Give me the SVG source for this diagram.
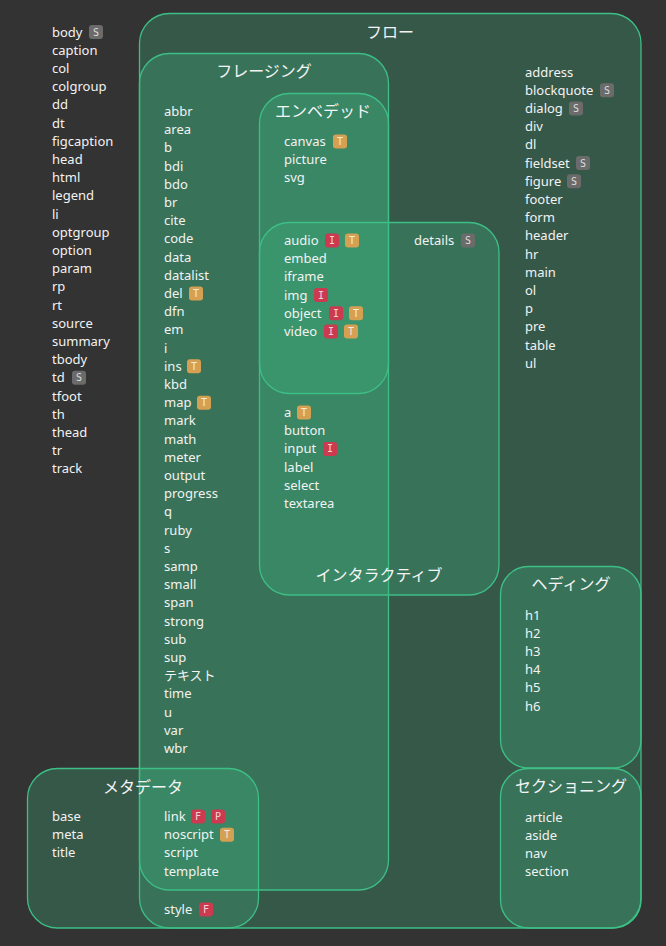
<svg xmlns="http://www.w3.org/2000/svg" width="666" height="946" viewBox="0 0 666 946">
<style>
.bg{fill:#333333}
.box{fill:rgb(61,190,134);fill-opacity:0.27;stroke:#3dbf86;stroke-width:1.3}
.t{font-family:"Noto Sans","Noto Sans CJK JP",sans-serif;font-size:13px;fill:#f2f2f2}
.h{font-family:"Noto Sans CJK JP","Noto Sans",sans-serif;font-size:16px;fill:#f4f4f4;text-anchor:middle}
.bS{fill:#6b6b6b}
.bT{fill:#d6a052}
.bI{fill:#cc3a50}
.bl{font-family:"DejaVu Sans Mono",monospace;font-size:10px;fill:#ffffff;fill-opacity:0.78;text-anchor:middle}
</style>
<rect class="bg" x="0" y="0" width="666" height="946"/>
<g id="outside">
<text class="t" x="52" y="36.5">body</text>
<text class="t" x="52" y="54.7">caption</text>
<text class="t" x="52" y="72.9">col</text>
<text class="t" x="52" y="91.1">colgroup</text>
<text class="t" x="52" y="109.3">dd</text>
<text class="t" x="52" y="127.5">dt</text>
<text class="t" x="52" y="145.7">figcaption</text>
<text class="t" x="52" y="163.9">head</text>
<text class="t" x="52" y="182.1">html</text>
<text class="t" x="52" y="200.3">legend</text>
<text class="t" x="52" y="218.5">li</text>
<text class="t" x="52" y="236.7">optgroup</text>
<text class="t" x="52" y="254.9">option</text>
<text class="t" x="52" y="273.1">param</text>
<text class="t" x="52" y="291.3">rp</text>
<text class="t" x="52" y="309.5">rt</text>
<text class="t" x="52" y="327.7">source</text>
<text class="t" x="52" y="345.9">summary</text>
<text class="t" x="52" y="364.1">tbody</text>
<text class="t" x="52" y="382.3">td</text>
<text class="t" x="52" y="400.5">tfoot</text>
<text class="t" x="52" y="418.7">th</text>
<text class="t" x="52" y="436.9">thead</text>
<text class="t" x="52" y="455.1">tr</text>
<text class="t" x="52" y="473.3">track</text>
<rect class="bS" x="89" y="25" width="14" height="14" rx="3"/><text class="bl" x="96" y="35.5">S</text>
<rect class="bS" x="72" y="370.8" width="14" height="14" rx="3"/><text class="bl" x="79" y="381.3">S</text>
</g>
<g id="flow">
<rect class="box" x="139.5" y="13.5" width="501.5" height="914.5" rx="30"/>
<text class="h" x="390" y="38">フロー</text>
<text class="t" x="525" y="76.5">address</text>
<text class="t" x="525" y="94.7">blockquote</text>
<text class="t" x="525" y="112.9">dialog</text>
<text class="t" x="525" y="131.1">div</text>
<text class="t" x="525" y="149.3">dl</text>
<text class="t" x="525" y="167.5">fieldset</text>
<text class="t" x="525" y="185.7">figure</text>
<text class="t" x="525" y="203.9">footer</text>
<text class="t" x="525" y="222.1">form</text>
<text class="t" x="525" y="240.3">header</text>
<text class="t" x="525" y="258.5">hr</text>
<text class="t" x="525" y="276.7">main</text>
<text class="t" x="525" y="294.9">ol</text>
<text class="t" x="525" y="313.1">p</text>
<text class="t" x="525" y="331.3">pre</text>
<text class="t" x="525" y="349.5">table</text>
<text class="t" x="525" y="367.7">ul</text>
<rect class="bS" x="600" y="83.2" width="14" height="14" rx="3"/><text class="bl" x="607" y="93.7">S</text>
<rect class="bS" x="569" y="101.4" width="14" height="14" rx="3"/><text class="bl" x="576" y="111.9">S</text>
<rect class="bS" x="576" y="156" width="14" height="14" rx="3"/><text class="bl" x="583" y="166.5">S</text>
<rect class="bS" x="567" y="174.2" width="14" height="14" rx="3"/><text class="bl" x="574" y="184.7">S</text>
</g>
<g id="phrasing">
<rect class="box" x="139.5" y="53.5" width="249" height="836.5" rx="30"/>
<text class="h" x="264" y="77">フレージング</text>
<text class="t" x="164" y="116">abbr</text>
<text class="t" x="164" y="134.2">area</text>
<text class="t" x="164" y="152.4">b</text>
<text class="t" x="164" y="170.6">bdi</text>
<text class="t" x="164" y="188.8">bdo</text>
<text class="t" x="164" y="207">br</text>
<text class="t" x="164" y="225.2">cite</text>
<text class="t" x="164" y="243.4">code</text>
<text class="t" x="164" y="261.6">data</text>
<text class="t" x="164" y="279.8">datalist</text>
<text class="t" x="164" y="298">del</text>
<text class="t" x="164" y="316.2">dfn</text>
<text class="t" x="164" y="334.4">em</text>
<text class="t" x="164" y="352.6">i</text>
<text class="t" x="164" y="370.8">ins</text>
<text class="t" x="164" y="389">kbd</text>
<text class="t" x="164" y="407.2">map</text>
<text class="t" x="164" y="425.4">mark</text>
<text class="t" x="164" y="443.6">math</text>
<text class="t" x="164" y="461.8">meter</text>
<text class="t" x="164" y="480">output</text>
<text class="t" x="164" y="498.2">progress</text>
<text class="t" x="164" y="516.4">q</text>
<text class="t" x="164" y="534.6">ruby</text>
<text class="t" x="164" y="552.8">s</text>
<text class="t" x="164" y="571">samp</text>
<text class="t" x="164" y="589.2">small</text>
<text class="t" x="164" y="607.4">span</text>
<text class="t" x="164" y="625.6">strong</text>
<text class="t" x="164" y="643.8">sub</text>
<text class="t" x="164" y="662">sup</text>
<text class="t" x="164" y="680.2">テキスト</text>
<text class="t" x="164" y="698.4">time</text>
<text class="t" x="164" y="716.6">u</text>
<text class="t" x="164" y="734.8">var</text>
<text class="t" x="164" y="753">wbr</text>
<rect class="bT" x="189" y="286.5" width="14" height="14" rx="3"/><text class="bl" x="196" y="297">T</text>
<rect class="bT" x="187" y="359.3" width="14" height="14" rx="3"/><text class="bl" x="194" y="369.8">T</text>
<rect class="bT" x="197" y="395.7" width="14" height="14" rx="3"/><text class="bl" x="204" y="406.2">T</text>
</g>
<g id="embedded">
<rect class="box" x="259.5" y="93.5" width="129" height="300" rx="30"/>
<text class="h" x="323" y="117">エンベデッド</text>
<text class="t" x="284" y="146">canvas</text>
<text class="t" x="284" y="164.2">picture</text>
<text class="t" x="284" y="182.4">svg</text>
<rect class="bT" x="333" y="134.5" width="14" height="14" rx="3"/><text class="bl" x="340" y="145">T</text>
</g>
<g id="interactive">
<rect class="box" x="259.5" y="222.5" width="239.5" height="372.5" rx="30"/>
<text class="h" x="379" y="581">インタラクティブ</text>
<text class="t" x="284" y="245">audio</text>
<text class="t" x="284" y="263.2">embed</text>
<text class="t" x="284" y="281.4">iframe</text>
<text class="t" x="284" y="299.6">img</text>
<text class="t" x="284" y="317.8">object</text>
<text class="t" x="284" y="336">video</text>
<rect class="bI" x="325" y="233.5" width="14" height="14" rx="3"/><text class="bl" x="332" y="244">I</text>
<rect class="bT" x="345" y="233.5" width="14" height="14" rx="3"/><text class="bl" x="352" y="244">T</text>
<rect class="bI" x="314" y="288.1" width="14" height="14" rx="3"/><text class="bl" x="321" y="298.6">I</text>
<rect class="bI" x="329" y="306.3" width="14" height="14" rx="3"/><text class="bl" x="336" y="316.8">I</text>
<rect class="bT" x="349" y="306.3" width="14" height="14" rx="3"/><text class="bl" x="356" y="316.8">T</text>
<rect class="bI" x="324" y="324.5" width="14" height="14" rx="3"/><text class="bl" x="331" y="335">I</text>
<rect class="bT" x="344" y="324.5" width="14" height="14" rx="3"/><text class="bl" x="351" y="335">T</text>
<text class="t" x="414" y="245">details</text>
<rect class="bS" x="461" y="233.5" width="14" height="14" rx="3"/><text class="bl" x="468" y="244">S</text>
<text class="t" x="284" y="417">a</text>
<text class="t" x="284" y="435.2">button</text>
<text class="t" x="284" y="453.4">input</text>
<text class="t" x="284" y="471.6">label</text>
<text class="t" x="284" y="489.8">select</text>
<text class="t" x="284" y="508">textarea</text>
<rect class="bT" x="297" y="405.5" width="14" height="14" rx="3"/><text class="bl" x="304" y="416">T</text>
<rect class="bI" x="323" y="441.9" width="14" height="14" rx="3"/><text class="bl" x="330" y="452.4">I</text>
</g>
<g id="heading">
<rect class="box" x="500.5" y="566.5" width="140.5" height="201.5" rx="28"/>
<text class="h" x="571" y="590">ヘディング</text>
<text class="t" x="525" y="619.5">h1</text>
<text class="t" x="525" y="637.7">h2</text>
<text class="t" x="525" y="655.9">h3</text>
<text class="t" x="525" y="674.1">h4</text>
<text class="t" x="525" y="692.3">h5</text>
<text class="t" x="525" y="710.5">h6</text>
</g>
<g id="sectioning">
<rect class="box" x="500.5" y="768.5" width="140.5" height="159.5" rx="28"/>
<text class="h" x="571" y="792">セクショニング</text>
<text class="t" x="525" y="821.5">article</text>
<text class="t" x="525" y="839.7">aside</text>
<text class="t" x="525" y="857.9">nav</text>
<text class="t" x="525" y="876.1">section</text>
</g>
<g id="metadata">
<rect class="box" x="27.5" y="768.5" width="231" height="159.5" rx="30"/>
<text class="h" x="143" y="793">メタデータ</text>
<text class="t" x="52" y="821">base</text>
<text class="t" x="52" y="839.2">meta</text>
<text class="t" x="52" y="857.4">title</text>
<text class="t" x="164" y="821">link</text>
<text class="t" x="164" y="839.2">noscript</text>
<text class="t" x="164" y="857.4">script</text>
<text class="t" x="164" y="875.6">template</text>
<text class="t" x="164" y="914">style</text>
<rect class="bI" x="191" y="809.5" width="14" height="14" rx="3"/><text class="bl" x="198" y="820">F</text>
<rect class="bI" x="211" y="809.5" width="14" height="14" rx="3"/><text class="bl" x="218" y="820">P</text>
<rect class="bT" x="220" y="827.7" width="14" height="14" rx="3"/><text class="bl" x="227" y="838.2">T</text>
<rect class="bI" x="199" y="902.5" width="14" height="14" rx="3"/><text class="bl" x="206" y="913">F</text>
</g>
<g id="connectors"/>
</svg>
